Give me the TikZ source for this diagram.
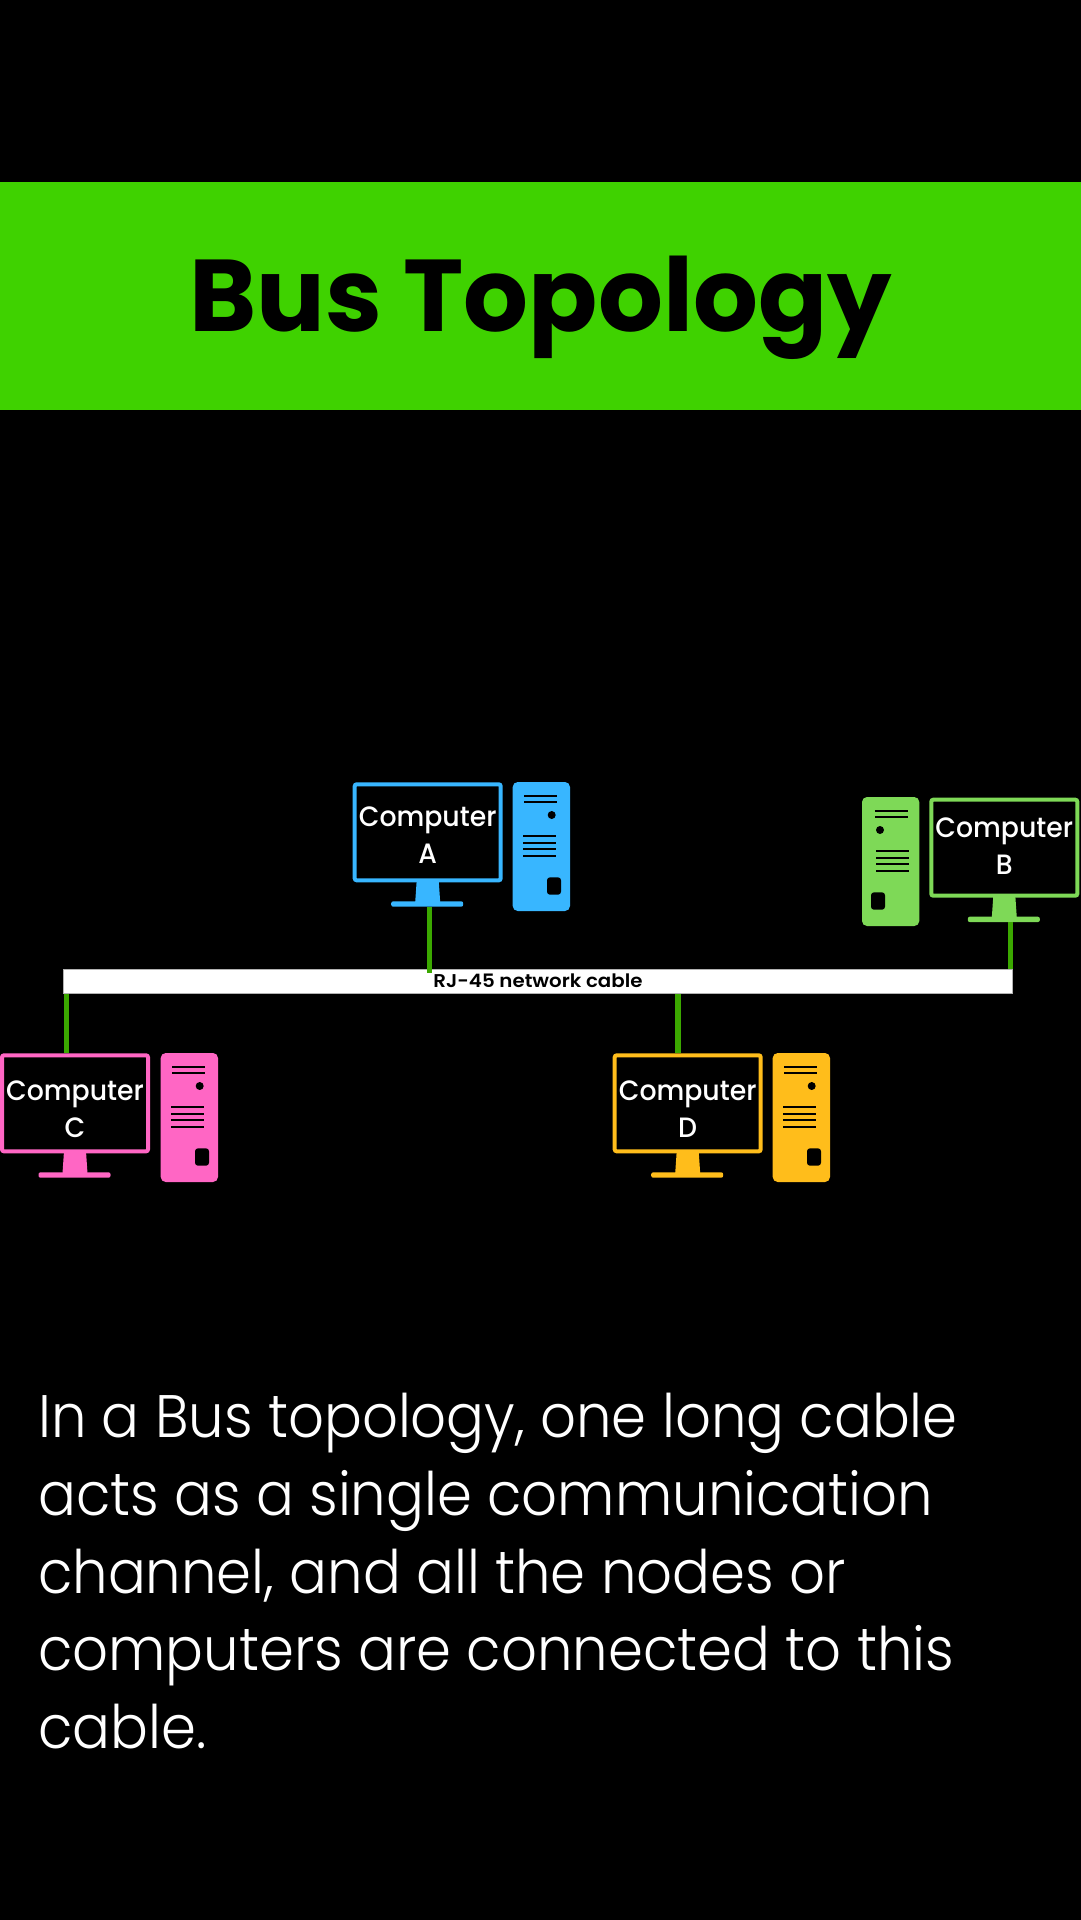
\documentclass[tikz,border=0pt]{standalone}
\usepackage{fontspec}
\setmainfont{Poppins}
\newfontfamily\bodyfont[FakeStretch=0.935]{Poppins Light}
\newfontfamily\labelfont[FakeStretch=0.955]{Poppins Medium}
\newfontfamily\cablefont[FakeStretch=1.07]{Poppins SemiBold}
\newfontfamily\titlefont{Poppins}
\definecolor{bandgreen}{HTML}{3FD200}
\definecolor{wiregreen}{HTML}{3BA800}
\definecolor{cblue}{HTML}{38B6FF}
\definecolor{cgreen}{HTML}{7ED957}
\definecolor{cpink}{HTML}{FF66C4}
\definecolor{cyellow}{HTML}{FFBD1B}
\tikzset{
  monbox/.style={draw=#1,line width=4pt,rounded corners=2pt,inner sep=0pt,minimum width=146pt,minimum height=96pt},
  monlabel/.style={inner sep=0pt,text=white,align=center,font=\labelfont\fontsize{28}{36.7}\selectfont},
  basebar/.style={fill=#1,rounded corners=2pt,inner sep=0pt,minimum width=72pt,minimum height=5.4pt},
  towerbox/.style={fill=#1,rounded corners=5pt,inner sep=0pt,minimum width=57.3pt,minimum height=129pt},
  wire/.style={draw=wiregreen,line width=5.4pt},
  bus/.style={fill=white,draw=black!30,line width=0.6pt,inner sep=0pt,minimum width=949pt,minimum height=24pt},
}
% #1 name, #2 monitor left, #3 monitor top, #4 colour, #5 tower left, #6 tower top, #7 label, #8 grille flip, #9 label offset
\newcommand{\computerset}[9]{%
  \node[monbox=#4] (mon#1) at (#2+75,#3+50) {};
  \node[monlabel] (lbl#1) at (#2+75,#3+#9) {Computer\\#7};
  \fill[#4] (#2+64,#3+98) -- (#2+86,#3+98) -- (#2+87.5,#3+120) -- (#2+62.5,#3+120) -- cycle;
  \node[basebar=#4] (base#1) at (#2+74.5,#3+121.7) {};
  \node[towerbox=#4] (tower#1) at (#5+28.65,#6+64.5) {};
  \ifnum#8=0
    \fill[black] (#5+11.3,#6+13) rectangle (#5+44,#6+15);
    \fill[black] (#5+11.3,#6+19) rectangle (#5+44,#6+21);
    \fill[black] (#5+39,#6+33) circle (4);
    \foreach \yy in {54,60.7,67.3,74}{\fill[black] (#5+10.3,#6+\yy-1) rectangle (#5+43.3,#6+\yy+1);}
    \fill[black,rounded corners=3pt] (#5+34.3,#6+95.3) rectangle (#5+48.3,#6+112.7);
  \else
    \fill[black] (#5+13.3,#6+13) rectangle (#5+46,#6+15);
    \fill[black] (#5+13.3,#6+19) rectangle (#5+46,#6+21);
    \fill[black] (#5+18,#6+33) circle (4);
    \foreach \yy in {54,60.7,67.3,74}{\fill[black] (#5+14,#6+\yy-1) rectangle (#5+47,#6+\yy+1);}
    \fill[black,rounded corners=3pt] (#5+9,#6+95.3) rectangle (#5+23,#6+112.7);
  \fi
}
\begin{document}
\begin{tikzpicture}[x=1pt,y=-1pt]
\useasboundingbox (0,0) rectangle (1080,1920);
\fill[black] (-3,-3) rectangle (1083,1923);
\fill[bandgreen] (-3,182) rectangle (1083,410);
\node[anchor=base,text=black,inner sep=0pt,font=\titlefont\bfseries\fontsize{102}{110}\selectfont] (title) at (540.5,331) {Bus Topology};
\node[bus,anchor=north west] (cable) at (63,969) {};
\node[anchor=base,inner sep=0pt,text=black,font=\cablefont\fontsize{18.5}{20}\selectfont] (cablelabel) at (538,987) {RJ-45 network cable};
\computerset{A}{352.7}{782.3}{cblue}{512.7}{782}{A}{0}{53}
\computerset{B}{929.3}{797.7}{cgreen}{862}{797}{B}{1}{48.5}
\computerset{C}{0}{1053.3}{cpink}{160.7}{1053}{C}{0}{56}
\computerset{D}{612.7}{1053.3}{cyellow}{772.7}{1053}{D}{0}{56}
\draw[wire] ([xshift=2.3pt]baseA.south) -- ([xshift=2.3pt]baseA.south |- cable.north) -- ++(0,3.5);
\draw[wire] ([xshift=6.5pt]baseB.south) -- ([xshift=6.5pt]baseB.south |- cable.north);
\draw[wire] (monC.north -| 66.3,0) -- (cable.south -| 66.3,0);
\draw[wire] (monD.north -| 678,0) -- (cable.south -| 678,0);
\node[anchor=north west,inner sep=0pt,text=white,align=left,font=\bodyfont\fontsize{60}{77.7}\selectfont] (body) at (38,1393) {In a Bus topology, one long cable\\acts as a single communication\\channel, and all the nodes or\\computers are connected to this\\cable.};
\end{tikzpicture}
\end{document}
